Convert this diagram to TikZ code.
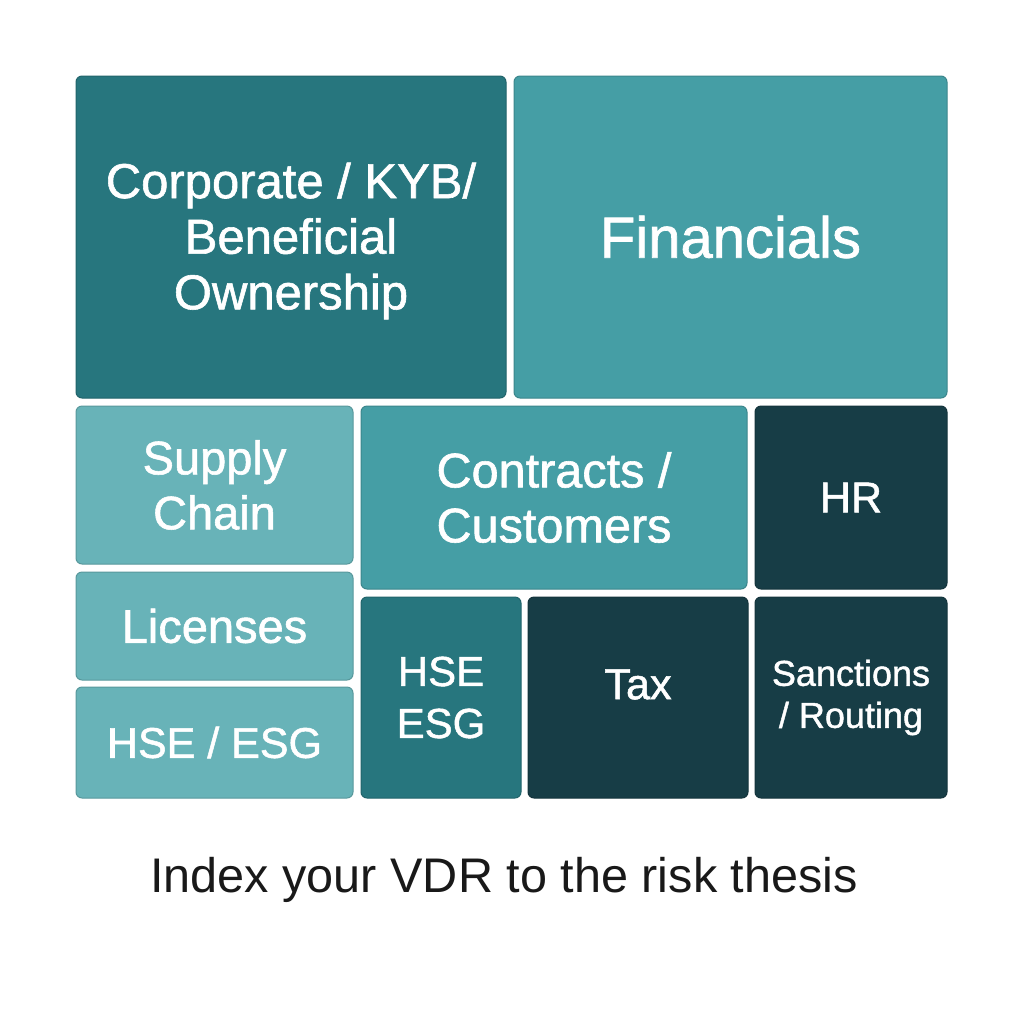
\documentclass[tikz,border=0pt]{standalone}
\usepackage{fontspec}
\setmainfont{Liberation Sans}
\newfontfamily\tilefont{Liberation Sans}[FakeBold=1.2]
\definecolor{tealdeep}{HTML}{27767E}
\definecolor{tealmid}{HTML}{459EA5}
\definecolor{teallight}{HTML}{68B3B8}
\definecolor{tealnight}{HTML}{173D46}
\begin{document}
\begin{tikzpicture}[x=0.5pt,y=-0.5pt,
		tile/.style={rounded corners=3pt,line width=0.5pt,text=white,align=center,inner sep=0pt},
		deep/.style={tile,fill=tealdeep,draw=tealdeep!85!black},
		mid/.style={tile,fill=tealmid,draw=tealmid!85!black},
		light/.style={tile,fill=teallight,draw=teallight!85!black},
		night/.style={tile,fill=tealnight,draw=tealnight!85!black},
		size/.style 2 args={font=\tilefont\fontsize{#1}{#2}\selectfont}]
	\useasboundingbox[fill=white] (0,0) rectangle (1024,1024);
	% top row
	\node[deep,size={24.5}{27.8},minimum width=215pt,minimum height=161pt] (corp) at (291,237) {};
	\node[text=white,align=center,inner sep=0pt,size={24.5}{27.8}] (corplabel)
		at ([yshift=-2pt]corp.center) {Corporate / KYB/\\Beneficial\\Ownership};
	\node[mid,size={29}{32},minimum width=216.5pt,minimum height=161pt] (fin) at (730.5,237)
		{Financials};
	% left column
	\node[light,size={23.5}{27.5},minimum width=138.5pt,minimum height=79pt] (supply) at (214.5,485)
		{Supply\\Chain};
	\node[light,size={23.5}{26},minimum width=138.5pt,minimum height=54pt] (lic) at (214.5,626)
		{Licenses};
	\node[light,size={21.5}{24},minimum width=138.5pt,minimum height=55.5pt] (hseesg) at (214.5,742.5)
		{HSE / ESG};
	% middle and right
	\node[mid,size={24.3}{27.5},minimum width=193pt,minimum height=91.5pt] (contracts) at (554,497.5)
		{Contracts /\\Customers};
	\node[night,size={21.5}{24},minimum width=96pt,minimum height=91.5pt] (hr) at (851,497.5)
		{HR};
	\node[deep,size={21}{26},minimum width=80pt,minimum height=100.5pt] (hse) at (441,697.5)
		{HSE\\ESG};
	\node[night,minimum width=110pt,minimum height=100.5pt] (tax) at (638,697.5) {};
	\node[text=white,inner sep=0pt,size={21.6}{24}] (taxlabel)
		at ([yshift=6.5pt]tax.center) {Tax};
	\node[night,size={18}{21},minimum width=96pt,minimum height=100.5pt] (sanctions) at (851,697.5)
		{Sanctions\\/ Routing};
	% caption
	\node[text=black!90,font=\fontsize{24.3}{28}\selectfont] (caption) at (504,880)
		{Index your VDR to the risk thesis};
\end{tikzpicture}
\end{document}
